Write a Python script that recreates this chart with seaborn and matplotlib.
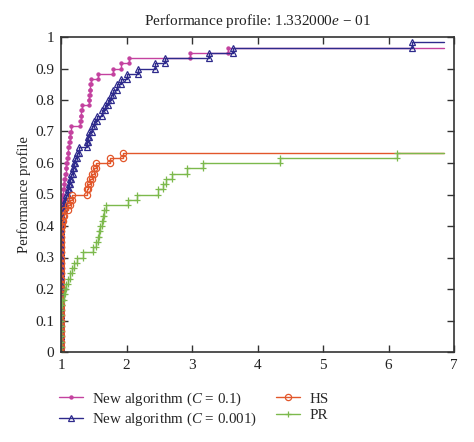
import numpy as np
import pandas as pd
import matplotlib
matplotlib.use("Agg")
import matplotlib.pyplot as plt
import seaborn as sns

# ---- data: performance ratios of solved problems (60 problems total) ----
n_problems = 60
tau_max = 6.84

names = ["New algorithm ($C$ = 0.1)", "New algorithm ($C$ = 0.001)", "HS", "PR"]

ratios_c01 = [1.0] * 27 + [1.005, 1.01, 1.02, 1.03, 1.04, 1.05,
                          1.06, 1.07, 1.08,
                          1.09, 1.10, 1.11, 1.12, 1.13, 1.14,
                          1.16,
                          1.29, 1.30, 1.31, 1.32,
                          1.42, 1.43, 1.44, 1.45, 1.46,
                          1.56, 1.79, 1.91, 2.04, 2.97, 3.55]

ratios_c0001 = [1.0] * 24 + [1.005, 1.01, 1.02, 1.04, 1.06, 1.08,
                            1.10, 1.12, 1.14, 1.16, 1.18, 1.20,
                            1.22, 1.24, 1.27,
                            1.39, 1.41, 1.43,
                            1.47, 1.51, 1.55,
                            1.62, 1.67, 1.72,
                            1.76, 1.80, 1.85,
                            1.92, 2.01,
                            2.18, 2.44, 2.59, 3.26, 3.63, 6.36]

ratios_hs = [1.0] * 24 + [1.01, 1.03, 1.05, 1.10, 1.13, 1.17,
                         1.39, 1.41, 1.44, 1.47, 1.50, 1.53,
                         1.75, 1.95]

ratios_pr = [1.0] * 9 + [1.02, 1.04, 1.06, 1.08, 1.11, 1.14, 1.17, 1.20, 1.24,
                        1.34, 1.49,
                        1.54, 1.56, 1.58, 1.60, 1.62, 1.64, 1.66, 1.69,
                        2.03, 2.16, 2.48, 2.56, 2.61, 2.69, 2.92, 3.17,
                        4.35, 6.13]

all_ratios = [ratios_c01, ratios_c0001, ratios_hs, ratios_pr]

colors = ["#c4429f", "#2e2a8c", "#e2572b", "#7cb94c"]
markers = [".", "^", "o", "+"]
mfcs = ["#c4429f", "none", "none", "#7cb94c"]
msizes = [4.5, 4.5, 4.5, 4.5]


def stairs(r):
    r = sorted(r)
    xs, ys = [1.0], [0.0]
    for i, t in enumerate(r):
        xs += [t, t]
        ys += [i / n_problems, (i + 1) / n_problems]
    xs.append(tau_max)
    ys.append(len(r) / n_problems)
    return xs, ys


sns.set_style("ticks")
plt.rcParams["font.family"] = ["Liberation Serif", "DejaVu Serif"]
plt.rcParams["mathtext.fontset"] = "custom"
plt.rcParams["mathtext.it"] = "Liberation Serif:italic"
plt.rcParams["mathtext.rm"] = "Liberation Serif"

fig = plt.figure(figsize=(4.74, 4.42), dpi=100)
ax = fig.add_axes([61 / 474, 1 - 352 / 442, (454 - 61) / 474, (352 - 37) / 442])

for name, r, c, m, mfc, ms in zip(names, all_ratios, colors, markers, mfcs, msizes):
    xs, ys = stairs(r)
    df = pd.DataFrame({"tau": xs, "rho": ys})
    sns.lineplot(data=df, x="tau", y="rho", sort=False, estimator=None,
                 color=c, marker=m, markersize=ms, mfc=mfc, mec=c, mew=0.9,
                 markevery=slice(1, len(xs) - 1),
                 lw=1.0, label=name, ax=ax, legend=False)

ax.set_xlim(1, 7)
ax.set_ylim(0, 1)
ax.set_xticks(range(1, 8))
ax.set_yticks(np.arange(0, 1.01, 0.1))
ax.set_yticklabels(["0", "0.1", "0.2", "0.3", "0.4", "0.5", "0.6", "0.7", "0.8", "0.9", "1"])
ax.tick_params(direction="in", top=True, right=True, labelsize=11, length=5,
               width=1.0, color="#333333", labelcolor="#222222", pad=5)
for s in ax.spines.values():
    s.set_visible(True)
    s.set_linewidth(1.2)
    s.set_color("#333333")
ax.set_xlabel("")
ax.set_ylabel("Performance profile", fontsize=10.5, color="#222222", labelpad=3)
ax.set_title("Performance profile: 1.332000$e$ − 01", fontsize=11, color="#222222", pad=9)

handles, labels = ax.get_legend_handles_labels()
fig.legend(handles, labels, loc="upper left", bbox_to_anchor=(45 / 474, 1 - 377 / 442),
           ncol=2, frameon=False, fontsize=10.8, handlelength=1.6, numpoints=1,
           columnspacing=1.3, labelspacing=0.2, handletextpad=0.6)

fig.savefig("out.png", dpi=100)
